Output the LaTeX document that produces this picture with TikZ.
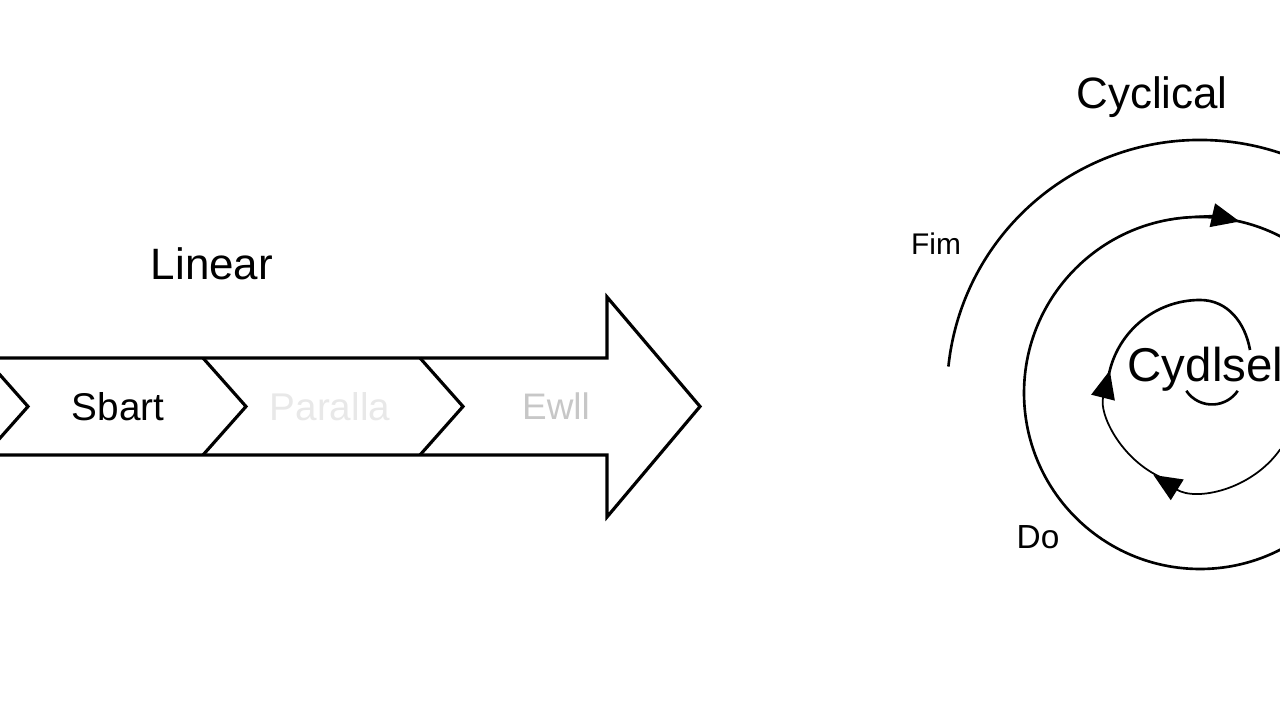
\documentclass[tikz,border=0pt]{standalone}
\usepackage{fontspec}
\setmainfont{Liberation Sans}
\usetikzlibrary{arrows.meta}

\tikzset{
  outline/.style={line width=0.9pt, line join=miter},
  ring/.style={line width=0.75pt},
  thinring/.style={line width=0.5pt},
  tip/.style={-{Triangle[length=0.28cm, width=0.24cm]}},
  label/.style={inner sep=0pt, font=\fontsize{#1}{#1}\selectfont},
  label/.default=11pt
}

\begin{document}
\begin{tikzpicture}
      % Page frame (1280 x 720 px, 1 px = 0.01 cm)
      \useasboundingbox (0,0) rectangle (12.8,7.2);
      \clip (0,0) rectangle (12.8,7.2);

      % ---------------- Linear ----------------
      \def\top{3.62}
      \def\bot{2.65}
      \def\mid{3.135}

      % Big arrow outline
      \coordinate (bodytl) at (-0.2,\top);
      \coordinate (bodybl) at (-0.2,\bot);
      \coordinate (headtl) at (6.07,\top);
      \coordinate (headbl) at (6.07,\bot);
      \coordinate (headt) at (6.07,4.23);
      \coordinate (headb) at (6.07,2.03);
      \coordinate (headtip) at (7.00,\mid);
      \draw[outline] (bodytl) -- (headtl) -- (headt) -- (headtip)
        -- (headb) -- (headbl) -- (bodybl);

      % Chevron dividers
      \foreach \x in {-0.15,2.03,4.20} {
        \draw[outline] (\x,\top) -- ++(0.43,-0.485) -- ++(-0.43,-0.485);
      }

      % Step labels
      \node[label=11pt] (start) at (1.18,\mid) {Sbart};
      \node[label=11pt, text=black!9] (middle) at (3.30,\mid) {Paralla};
      \node[label=10.5pt, text=black!22] (finish) at (5.56,\mid) {Ewll};
      \node[label=12.5pt] (linear) at (2.12,4.56) {Linear};

      % ---------------- Cyclical ----------------
      \coordinate (hub) at (12.00,3.27);

      % Outer open arc
      \draw[ring] (hub) ++(174:2.53) arc[start angle=174, end angle=40, radius=2.53];

      % Middle circle with arrow on top
      \draw[ring] (hub) circle[radius=1.76];
      \draw[thinring, tip] (hub) ++(100:1.76) arc[start angle=100, end angle=77, radius=1.76];

      % Inner circle, three pieces
      \draw[thinring, tip] (hub) ++(325:0.98) arc[start angle=325, end angle=238, radius=0.94];
      \draw[thinring, tip] (hub) ++(246:0.93) arc[start angle=246, end angle=166, radius=0.93];
      \draw[ring] (hub) ++(172:0.93) arc[start angle=172, end angle=90, radius=0.93]
        coordinate (innertop) to[out=0, in=100] (12.50,3.70);

      % Small arc under the centre word
      \draw[ring] (12.12,3.465) ++(214:0.31) arc[start angle=214, end angle=326, radius=0.31];

      % Labels
      \node[label=12.5pt] (cyclical) at (11.52,6.23) {Cyclical};
      \node[label=13.5pt, anchor=base west] (centre) at (11.27,3.38) {Cydlsel};
      \node[label=8.5pt] (fim) at (9.36,4.76) {Fim};
      \node[label=9.5pt] (do) at (10.38,1.83) {Do};
    \end{tikzpicture}
\end{document}
